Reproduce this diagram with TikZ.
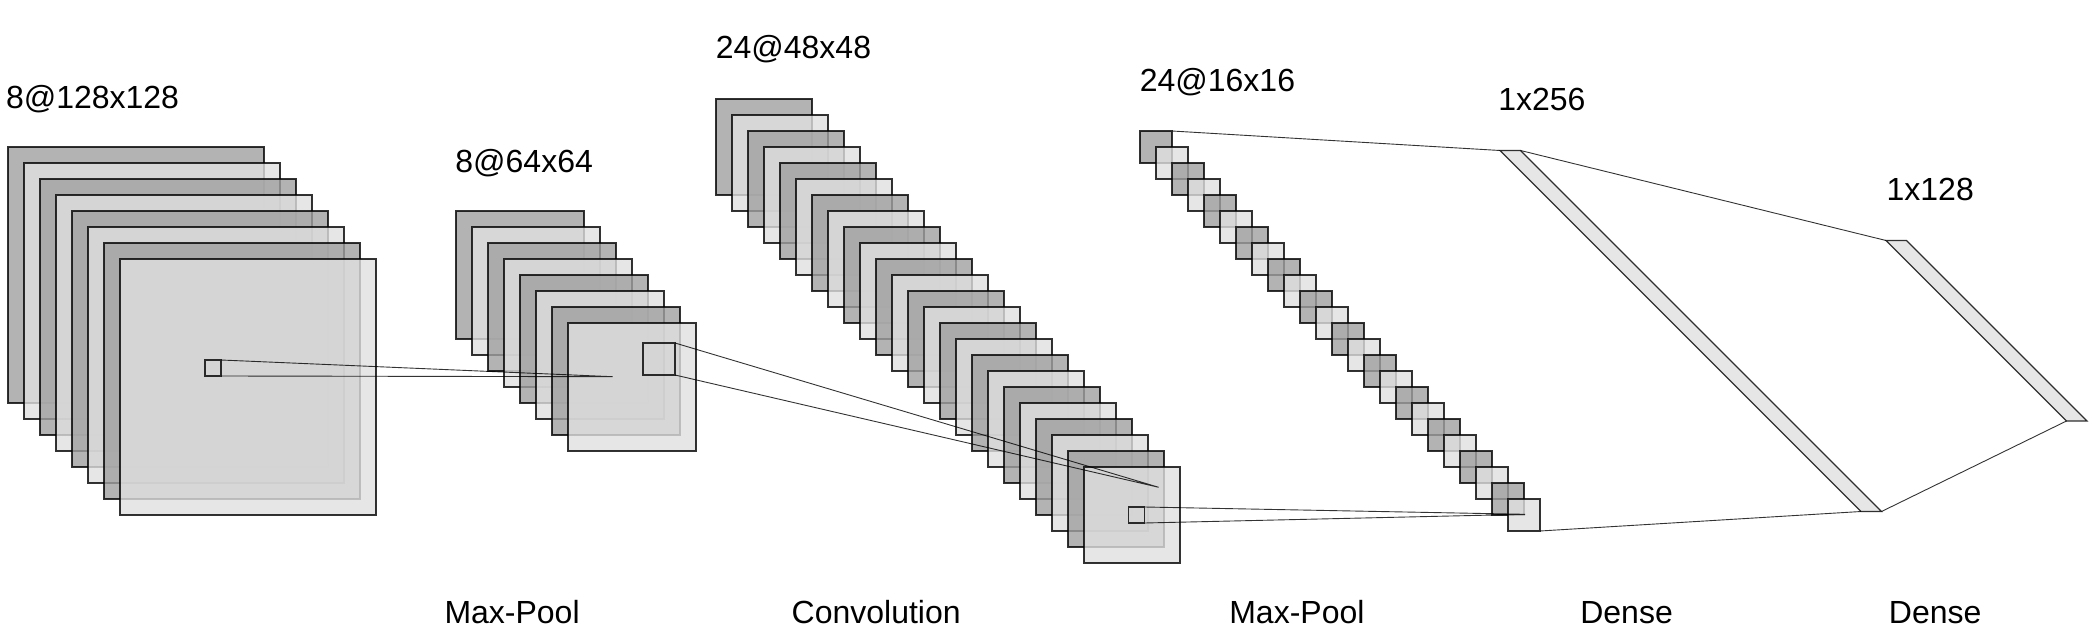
\documentclass[tikz,border=0pt]{standalone}
\usepackage{fontspec}
\setmainfont{Liberation Sans}
\usepackage{tikz}
\definecolor{mapdark}{HTML}{A0A0A0}
\definecolor{maplight}{HTML}{E0E0E0}
\newcommand*\mapstep{16}
\newcommand*\bordw{1.2pt}
\tikzset{
    fmap/.style     = {draw=black, line width=\bordw, opacity=0.8,
                      inner sep=0pt, outer sep=0pt, anchor=north west},
    shade1/.style   = {fmap, fill=mapdark},
    shade0/.style   = {fmap, fill=maplight},
    kernel/.style   = {draw=black, line width=\bordw, draw opacity=0.8,
                      inner sep=0pt, outer sep=0pt, anchor=north west},
    densebar/.style = {draw=black, line width=\bordw, fill=maplight, opacity=0.8},
    link/.style     = {draw=black, line width=0.9pt, opacity=0.8},
    toplabel/.style = {anchor=base west, inner sep=0pt, outer sep=0pt,
                      font=\fontsize{32}{38}\selectfont},
    oplabel/.style  = {toplabel},
  }
\begin{document}
\begin{tikzpicture}[x=1pt,y=-1pt]
        \useasboundingbox (0,0) rectangle (2092,644);

        % input stack 8@128x128
        \foreach \i in {1,...,8} {
            \pgfmathtruncatemacro\odd{mod(\i,2)}
            \node[shade\odd, minimum size=256pt] (a\i) at ({8+(\i-1)*\mapstep},{147+(\i-1)*\mapstep}) {};
        }
        \node[kernel, minimum size=16pt] (k1) at (205,360) {};

        % pooled stack 8@64x64
        \foreach \i in {1,...,8} {
            \pgfmathtruncatemacro\odd{mod(\i,2)}
            \node[shade\odd, minimum size=128pt] (b\i) at ({456+(\i-1)*\mapstep},{211+(\i-1)*\mapstep}) {};
        }
        \coordinate (p2) at (612.7,376.7);
        \draw[link] (k1.north east) -- (p2) (k1.south east) -- (p2);
        \node[kernel, minimum size=32pt] (k2) at (643,343) {};

        % convolution stack 24@48x48
        \foreach \i in {1,...,24} {
            \pgfmathtruncatemacro\odd{mod(\i,2)}
            \node[shade\odd, minimum size=96pt] (c\i) at ({716+(\i-1)*\mapstep},{99+(\i-1)*\mapstep}) {};
        }
        \coordinate (p3) at (1158.7,487.3);
        \draw[link] (k2.north east) -- (p3) (k2.south east) -- (p3);
        \node[kernel, minimum size=16pt] (k3) at (1128.5,507) {};

        % pooled stack 24@16x16
        \foreach \i in {1,...,24} {
            \pgfmathtruncatemacro\odd{mod(\i,2)}
            \node[shade\odd, minimum size=32pt] (e\i) at ({1140+(\i-1)*\mapstep},{131+(\i-1)*\mapstep}) {};
        }
        \coordinate (p4) at (1525,514.3);
        \draw[link] (k3.north east) -- (p4) (k3.south east) -- (p4);

        % dense layers
        \coordinate (d1nw) at (1500,150.5);
        \coordinate (d1ne) at (1520.5,150.5);
        \coordinate (d1se) at (1881.5,511.5);
        \coordinate (d1sw) at (1861,511.5);
        \draw[densebar] (d1nw) -- (d1ne) -- (d1se) -- (d1sw) -- cycle;
        \coordinate (d2nw) at (1886,240.5);
        \coordinate (d2ne) at (1906.5,240.5);
        \coordinate (d2se) at (2087,421);
        \coordinate (d2sw) at (2066.5,421);
        \draw[densebar] (d2nw) -- (d2ne) -- (d2se) -- (d2sw) -- cycle;

        \draw[link] (e1.north east) -- (d1nw);
        \draw[link] (e24.south east) -- (d1sw);
        \draw[link] (d1ne) -- (d2nw);
        \draw[link] (d1se) -- (d2sw);

        % sizes above the stacks
        \node[toplabel] (ta) at (6,108.3) {8@128x128};
        \node[toplabel] (tb) at (455.4,172.3) {8@64x64};
        \node[toplabel] (tc) at (715.8,58.3) {24@48x48};
        \node[toplabel] (te) at (1139.8,91.7) {24@16x16};
        \node[toplabel] (td1) at (1498.3,110.7) {1x256};
        \node[toplabel] (td2) at (1886.6,200.7) {1x128};

        % operations below
        \node[oplabel] (o1) at (444.5,623.5) {Max-Pool};
        \node[oplabel] (o2) at (791.7,623.5) {Convolution};
        \node[oplabel] (o3) at (1229.3,623.5) {Max-Pool};
        \node[oplabel] (o4) at (1580.3,623.5) {Dense};
        \node[oplabel] (o5) at (1888.9,623.5) {Dense};
\end{tikzpicture}
\end{document}
